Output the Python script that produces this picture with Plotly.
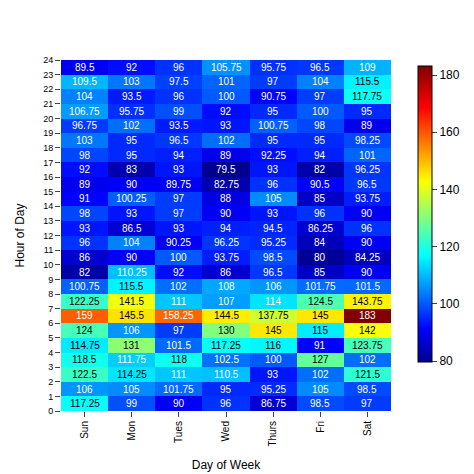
import plotly.graph_objects as go

days = ["Sun", "Mon", "Tues", "Wed", "Thurs", "Fri", "Sat"]
hours = list(range(24))
# rows: hour 0..23, columns Sun..Sat
values = [
    [117.25, 99, 90, 96, 86.75, 98.5, 97],
    [106, 105, 101.75, 95, 95.25, 105, 98.5],
    [122.5, 114.25, 111, 110.5, 93, 102, 121.5],
    [118.5, 111.75, 118, 102.5, 100, 127, 102],
    [114.75, 131, 101.5, 117.25, 116, 91, 123.75],
    [124, 106, 97, 130, 145, 115, 142],
    [159, 145.5, 158.25, 144.5, 137.75, 145, 183],
    [122.25, 141.5, 111, 107, 114, 124.5, 143.75],
    [100.75, 115.5, 102, 108, 106, 101.75, 101.5],
    [82, 110.25, 92, 86, 96.5, 85, 90],
    [86, 90, 100, 93.75, 98.5, 80, 84.25],
    [96, 104, 90.25, 96.25, 95.25, 84, 90],
    [93, 86.5, 93, 94, 94.5, 86.25, 96],
    [98, 93, 97, 90, 93, 96, 90],
    [91, 100.25, 97, 88, 105, 85, 93.75],
    [89, 90, 89.75, 82.75, 96, 90.5, 96.5],
    [92, 83, 93, 79.5, 93, 82, 96.25],
    [98, 95, 94, 89, 92.25, 94, 101],
    [103, 95, 96.5, 102, 95, 95, 98.25],
    [96.75, 102, 93.5, 93, 100.75, 98, 89],
    [106.75, 95.75, 99, 92, 95, 100, 95],
    [104, 93.5, 96, 100, 90.75, 97, 117.75],
    [109.5, 103, 97.5, 101, 97, 104, 115.5],
    [89.5, 92, 96, 105.75, 95.75, 96.5, 109],
]

jet = [[0, "rgb(0,0,143)"], [0.11, "rgb(0,0,255)"], [0.36, "rgb(0,255,255)"],
       [0.61, "rgb(255,255,0)"], [0.86, "rgb(255,0,0)"], [1, "rgb(128,0,0)"]]

xs = list(range(len(days)))
ys = [h + 0.5 for h in hours]

fig = go.Figure()
fig.add_trace(go.Heatmap(
    z=values, x=xs, y=ys, colorscale=jet, zmin=79.5, zmax=183,
    showscale=True,
    colorbar=dict(x=1.05, xanchor="left", y=0.56, yanchor="middle", len=0.9,
                  thickness=14, tickvals=[80, 100, 120, 140, 160, 180],
                  ticks="outside", outlinewidth=1, outlinecolor="black",
                  tickfont=dict(size=12, color="black"))
))
for i, row in enumerate(values):
    for j, v in enumerate(row):
        col = "black" if 114.1 < v < 150 else "white"
        fig.add_annotation(x=xs[j], y=ys[i], text=f"{v:g}", showarrow=False,
                           font=dict(size=10, color=col, family="Liberation Sans, Arial"))

fig.update_layout(
    width=474, height=474, plot_bgcolor="white", paper_bgcolor="white",
    margin=dict(l=52, r=84, t=52, b=68),
    font=dict(family="Liberation Sans, Arial", color="black"),
    xaxis=dict(tickvals=xs, ticktext=days, tickangle=-90, ticks="outside",
               showgrid=False, zeroline=False, range=[-0.5, 6.5],
               title=dict(text="Day of Week", font=dict(size=12)), tickfont=dict(size=10)),
    yaxis=dict(tickvals=list(range(25)), ticks="outside", showgrid=False,
               zeroline=False, range=[0, 24],
               title=dict(text="Hour of Day", font=dict(size=12)), tickfont=dict(size=9)),
)
fig.write_html("out.html")
